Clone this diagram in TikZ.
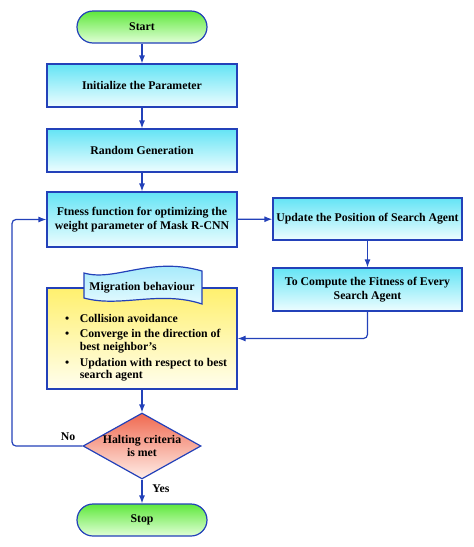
\documentclass[tikz,border=0pt]{standalone}
\usepackage{fontspec}
\setmainfont{Liberation Serif}
\usetikzlibrary{shapes.geometric,arrows.meta}

\definecolor{edge}{RGB}{35,65,185}
\definecolor{boxtop}{RGB}{100,228,245}
\definecolor{boxbot}{RGB}{238,253,255}
\definecolor{termtop}{RGB}{95,232,60}
\definecolor{termbot}{RGB}{225,255,215}
\definecolor{ylwtop}{RGB}{255,240,110}
\definecolor{ylwbot}{RGB}{255,254,238}
\definecolor{dectop}{RGB}{240,105,80}
\definecolor{decbot}{RGB}{255,238,232}
\definecolor{bantop}{RGB}{150,230,250}
\definecolor{banbot}{RGB}{235,252,255}

\begin{document}
\begin{tikzpicture}[x=1pt,y=-1pt,
    txt/.style={font=\bfseries\fontsize{11.8}{13.8}\selectfont,align=center},
    box/.style={txt,draw=edge,line width=1.2pt,top color=boxtop,bottom color=boxbot,minimum width=190pt,inner sep=2pt},
    term/.style={txt,draw=edge,line width=1.2pt,top color=termtop,bottom color=termbot,rounded corners=16pt,minimum width=130pt,minimum height=32pt},
    decision/.style={diamond,draw=edge,line width=1.2pt,top color=dectop,bottom color=decbot,minimum width=118pt,minimum height=66pt,aspect=1.79,inner sep=0pt},
    flow/.style={draw=edge,line width=1.2pt,-{Latex[length=8pt,width=6pt]}}]
    \useasboundingbox (0,0) rectangle (474,547);

    % left column
    \node[term] (start) at (142,27) {Start};
    \node[box,minimum height=43pt] (init) at (142,85.5) {Initialize the Parameter};
    \node[box,minimum height=43pt] (rand) at (142,150.5) {Random Generation};
    \node[box,minimum height=55pt] (fit) at (142,219.5) {Ftness function for optimizing the\\weight parameter of Mask R-CNN};

    % right column
    \node[box,minimum width=189pt,minimum height=42pt] (upd) at (367.5,219) {Update the Position of Search Agent};
    \node[box,minimum width=189pt,minimum height=43pt] (comp) at (367.5,289.5) {To Compute the Fitness of Every\\Search Agent};

    % migration box with banner
    \node[box,top color=ylwtop,bottom color=ylwbot,minimum height=101pt] (migr) at (142,338.5) {};
    \draw[draw=edge,line width=1.2pt,top color=bantop,bottom color=banbot]
        (84,273) .. controls (115,282) and (150,256) .. (202,271) -- (202,304)
        .. controls (160,290) and (120,308) .. (84,298) -- cycle;
    \node[txt] (bantxt) at (142,288) {Migration behaviour};
    \node[txt,anchor=base west,inner sep=0pt] (list) at (65,322) {%
        \fontsize{11.8}{12.8}\selectfont
        \begin{tabular}[t]{@{}l@{\hspace{10.5pt}}l@{}}
        \textbullet & Collision avoidance\\[2.8pt]
        \textbullet & Converge in the direction of\\
                    & best neighbor’s\\[2.8pt]
        \textbullet & Updation with respect to best\\
                    & search agent
        \end{tabular}};

    % decision and end
    \node[decision] (halt) at (142,446) {};
    \node[txt] (halttxt) at (halt) {Halting criteria\\is met};
    \node[term] (stop) at (142,520) {Stop};
    \node[txt] (no) at (68,437) {No};
    \node[txt] (yes) at (161,489) {Yes};
    \coordinate (back) at (12,446);

    % connectors
    \draw[flow] (start) -- (init);
    \draw[flow] (init) -- (rand);
    \draw[flow] (rand) -- (fit);
    \draw[flow] (fit) -- (upd);
    \draw[flow] (upd) -- (comp);
    \draw[flow,rounded corners=4pt] (comp.south) |- (migr.east);
    \draw[flow] (migr) -- (halt);
    \draw[flow] (halt) -- (stop);
    \draw[flow,rounded corners=4pt] (halt.west) -- (back) |- (fit.west);
\end{tikzpicture}
\end{document}
